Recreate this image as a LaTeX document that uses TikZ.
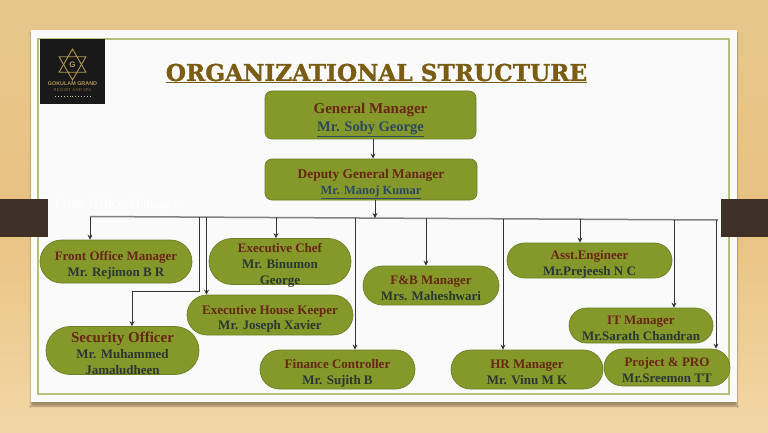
\documentclass[tikz,border=0pt]{standalone}
\usepackage{fontspec}
\setmainfont{Liberation Serif}
\newfontfamily\titlefont[BoldFeatures={FakeBold=1.2}]{DejaVu Serif}
\newfontfamily\logofont{Liberation Sans}
\usepackage{tikz}
\usetikzlibrary{
    arrows.meta,
    calc,
    positioning,
    shapes.geometric,
    shapes.misc,
    shadows.blur
}
\definecolor{woodtop}{RGB}{231,199,140}
\definecolor{woodmid}{RGB}{233,194,130}
\definecolor{woodlow}{RGB}{242,215,165}
\definecolor{paper}{RGB}{250,250,250}
\definecolor{rim}{RGB}{178,194,122}
\definecolor{tab}{RGB}{62,48,38}
\definecolor{olive}{RGB}{132,153,42}
\definecolor{olivedark}{RGB}{108,128,40}
\definecolor{titleink}{RGB}{122,92,18}
\definecolor{roleink}{RGB}{104,38,22}
\definecolor{nameink}{RGB}{44,54,52}
\definecolor{linkink}{RGB}{44,72,98}
\definecolor{gold}{RGB}{178,150,80}
\tikzset{
    x=1pt,
    y=-1pt,
    box/.style={
        rectangle,
        draw=olivedark,
        line width=0.7pt,
        fill=olive,
        rounded corners=7pt,
        align=center,
        inner sep=0pt,
        text depth=0pt
    },
    pill/.style={
        rounded rectangle,
        draw=olivedark,
        line width=0.7pt,
        fill=olive,
        align=center,
        inner sep=0pt,
        font=\bfseries\fontsize{13}{15.5}\selectfont,
        text=nameink,
        text height=29pt,
        text depth=0pt
    },
    threeline/.style={
        font=\bfseries\fontsize{13}{16}\selectfont,
        text height=46pt,
        text depth=-3pt
    },
    tactic/.style={
        -{Stealth[length=5pt,width=5pt]},
        draw=black!80,
        line width=1pt
    },
    trunk/.style={
        draw=black!50,
        line width=1.5pt
    },
    paneltitle/.style={
        font=\titlefont\bfseries\fontsize{23.2}{26}\selectfont,
        text=titleink
    }
}
\newcommand{\rolename}[1]{\textcolor{roleink}{#1}}
\begin{document}
\begin{tikzpicture}

% Backdrop
\path[top color=woodtop, bottom color=woodlow, middle color=woodmid] (0,0) rectangle (768,433);
\useasboundingbox (0,0) rectangle (768,433);
\fill[paper, blur shadow={shadow xshift=0pt, shadow yshift=-4pt, shadow blur steps=5, shadow opacity=35}] (31,30) rectangle (737,402);
\draw[rim, line width=1.2pt] (38,39) rectangle (729,394);

% Logo
\node[rectangle, fill=black!90, minimum width=65pt, minimum height=65pt, inner sep=0pt] (logo) at (72.5,71.5) {};
\node[regular polygon, regular polygon sides=3, draw=gold, minimum size=31pt, inner sep=0pt, line width=0.9pt] (starup) at (72.5,64.5) {};
\node[regular polygon, regular polygon sides=3, shape border rotate=180, draw=gold, minimum size=31pt, inner sep=0pt, line width=0.9pt] (stardown) at (72.5,64.5) {};
\node[text=gold, font=\logofont\bfseries\fontsize{8}{8}\selectfont, inner sep=0pt] (logog) at (72.5,64.5) {G};
\node[text=gold, font=\logofont\bfseries\fontsize{5.4}{6}\selectfont, inner sep=0pt] (logoa) at (72.5,84) {GOKULAM GRAND};
\node[text=gold!70!black, font=\fontsize{4.6}{5}\selectfont, inner sep=0pt] (logob) at (72.5,90.5) {RESORT AND SPA};
\draw[gold!60, line width=0.9pt, dotted] (55,96.5) -- (91,96.5);

% Title
\node[paneltitle, inner sep=0pt] (title) at (376.5,73.5) {\underline{ORGANIZATIONAL STRUCTURE}};

% Side tabs
\node[rectangle, fill=tab, minimum width=48pt, minimum height=38pt, inner sep=0pt] (tabl) at (24,218) {};
\node[rectangle, fill=tab, minimum width=47pt, minimum height=38pt, inner sep=0pt] (tabr) at (744.5,218) {};
\node[text=white, font=\fontsize{14}{15}\selectfont, inner sep=0pt, anchor=west] (ghost) at (55,205) {Front Office Manager};

% Top of the chart
\node[box, minimum width=211pt, minimum height=48pt, text height=33pt, font=\bfseries\fontsize{15}{18}\selectfont] (gm) at (370.5,115) {\rolename{General Manager}\\ \textcolor{linkink}{\underline{\fontsize{14.5}{18}\selectfont Mr. Soby George}}};
\node[box, minimum width=212pt, minimum height=41pt, text height=29pt, font=\bfseries\fontsize{13.4}{16}\selectfont] (dgm) at (371,179.5) {\rolename{Deputy General Manager}\\ \textcolor{linkink}{\underline{\fontsize{12.5}{16}\selectfont Mr. Manoj Kumar}}};

% Managers
\node[pill, minimum width=152pt, minimum height=43pt] (fom) at (116,261.5) {\rolename{Front Office Manager}\\Mr. Rejimon B R};
\node[pill, threeline, minimum width=142pt, minimum height=43pt] (chef) at (280,261.5) {\rolename{Executive Chef}\\Mr. Binumon\\George};
\node[pill, minimum width=166pt, minimum height=40pt] (ehk) at (270,315) {\rolename{Executive House Keeper}\\Mr. Joseph Xavier};
\node[pill, threeline, minimum width=153pt, minimum height=47pt, text height=48pt] (sec) at (122.5,350.5) {\fontsize{15}{16}\selectfont\rolename{Security Officer}\\\fontsize{13}{16}\selectfont Mr. Muhammed\\Jamaludheen};
\node[pill, minimum width=155pt, minimum height=39pt] (fin) at (337.5,369.5) {\rolename{Finance Controller}\\Mr. Sujith B};
\node[pill, minimum width=136pt, minimum height=39pt] (fnb) at (431,285.5) {\rolename{F\&B Manager}\\Mrs. Maheshwari};
\node[pill, minimum width=152pt, minimum height=39pt] (hr) at (527,369.5) {\rolename{HR Manager}\\Mr. Vinu M K};
\node[pill, minimum width=165pt, minimum height=35pt] (eng) at (589.5,260.5) {\rolename{Asst.Engineer}\\Mr.Prejeesh N C};
\node[pill, minimum width=144pt, minimum height=35pt] (it) at (641,325.5) {\rolename{IT Manager}\\Mr.Sarath Chandran};
\node[pill, minimum width=126pt, minimum height=37pt] (pro) at (667,367.5) {\rolename{Project \& PRO}\\Mr.Sreemon TT};

% Trunk
\coordinate (busl) at (90,216.5);
\coordinate (busr) at (718,220);
\draw[trunk] (busl) -- (busr);
\coordinate (busfom) at (90,217);
\coordinate (bussec) at (199.5,217);
\coordinate (busehk) at (206.5,217);
\coordinate (buschef) at (276,217);
\coordinate (busfin) at (355,218);
\coordinate (busdgm) at (375,218);
\coordinate (busfnb) at (426,218);
\coordinate (bushr) at (503,219);
\coordinate (buseng) at (580,219);
\coordinate (busit) at (674,220);
\coordinate (buspro) at (716,220);
\coordinate (secelbow) at (132,291);
\coordinate (gmdrop) at (373,139);

% Connectors
\draw[tactic] (gmdrop) -- (gmdrop |- dgm.north);
\draw[tactic] (busdgm |- dgm.south) -- (busdgm);
\draw[tactic] (busfom) -- (busfom |- fom.north);
\draw[tactic] (bussec) -- (bussec |- secelbow) -- (secelbow) -- (secelbow |- sec.north);
\draw[tactic] (busehk) -- (busehk |- ehk.north);
\draw[tactic] (buschef) -- (buschef |- chef.north);
\draw[tactic] (busfin) -- (busfin |- fin.north);
\draw[tactic] (busfnb) -- (busfnb |- fnb.north);
\draw[tactic] (bushr) -- (bushr |- hr.north);
\draw[tactic] (buseng) -- (buseng |- eng.north);
\draw[tactic] (busit) -- (busit |- it.north);
\draw[tactic] (buspro) -- (buspro |- pro.north);

\end{tikzpicture}
\end{document}
